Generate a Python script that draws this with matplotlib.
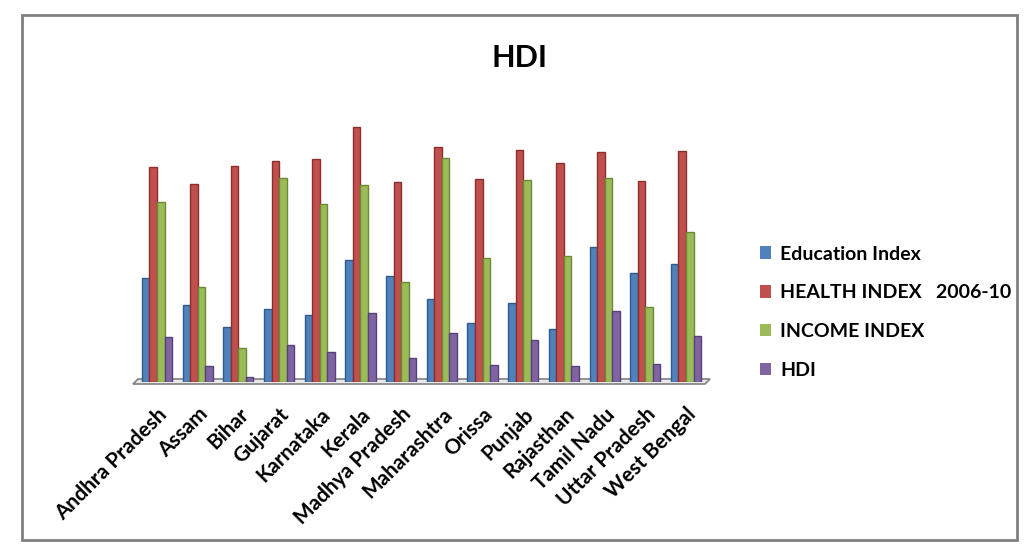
from __future__ import annotations

import matplotlib

matplotlib.use("Agg")

import matplotlib.pyplot as plt
import numpy as np
from matplotlib.patches import Polygon, Rectangle

plt.rcParams["font.family"] = ["Lato", "DejaVu Sans"]
plt.rcParams["font.weight"] = "bold"

STATES = [
    "Andhra Pradesh", "Assam", "Bihar", "Gujarat", "Karnataka", "Kerala", "Madhya Pradesh",
    "Maharashtra", "Orissa", "Punjab", "Rajasthan", "Tamil Nadu", "Uttar Pradesh", "West Bengal",
]
EDUCATION = [0.347, 0.257, 0.183, 0.243, 0.223, 0.407, 0.353, 0.277, 0.197, 0.263, 0.177, 0.450, 0.363, 0.393]
HEALTH = [0.717, 0.660, 0.720, 0.737, 0.743, 0.850, 0.667, 0.783, 0.677, 0.773, 0.730, 0.767, 0.670, 0.770]
INCOME = [0.600, 0.317, 0.113, 0.680, 0.593, 0.657, 0.333, 0.747, 0.413, 0.673, 0.420, 0.680, 0.250, 0.500]
HDI = [0.150, 0.053, 0.017, 0.123, 0.100, 0.230, 0.080, 0.163, 0.057, 0.140, 0.053, 0.237, 0.060, 0.153]

SERIES_LABELS = ["Education Index", "HEALTH INDEX   2006-10", "INCOME INDEX", "HDI"]
FACE_COLORS = ["#4F81BD", "#C0504D", "#9BBB59", "#8064A2"]
EDGE_COLORS = ["#2F5A8C", "#8C2F2C", "#6B8A35", "#57417A"]

W, H = 1029, 548


def main() -> None:
    fig = plt.figure(figsize=(W / 100, H / 100), dpi=100)

    # outer chart border
    fig.patches.append(
        Rectangle((22 / W, 1 - 540 / H), (1017 - 22) / W, (540 - 15) / H,
                  transform=fig.transFigure, fill=False, edgecolor="#808080", linewidth=2)
    )

    left, right, base, top = 133, 710, 382, 112
    ax = fig.add_axes([left / W, 1 - base / H, (right - left) / W, (base - top) / H])
    ax.set_xlim(-0.59, 13.59)
    ax.set_ylim(0, 0.9)

    x = np.arange(len(STATES))
    bar_w = 0.185
    series = [EDUCATION, HEALTH, INCOME, HDI]
    handles = []
    for k, values in enumerate(series):
        offs = (k - 1.5) * bar_w
        bars = ax.bar(x + offs, values, width=bar_w, color=FACE_COLORS[k],
                      edgecolor=EDGE_COLORS[k], linewidth=1.0, label=SERIES_LABELS[k], zorder=3)
        handles.append(bars)

    # thin 3D floor
    px = 14.18 / (right - left)
    py = 0.9 / (base - top)
    floor = Polygon(
        [(-0.59, -2 * py), (-0.59 + 572 * px, -2 * py), (13.59, 3 * py), (-0.59 + 5 * px, 3 * py)],
        closed=True, facecolor="#e8e8e8", edgecolor="#808080", linewidth=1.2, clip_on=False, zorder=2,
    )
    ax.add_patch(floor)

    ax.set_xticks(x)
    ax.set_xticklabels(STATES, rotation=45, ha="right", rotation_mode="anchor",
                       fontsize=15, fontweight="bold")
    ax.tick_params(axis="x", length=0, pad=16)
    ax.set_yticks([])
    for spine in ax.spines.values():
        spine.set_visible(False)
    ax.patch.set_visible(False)

    fig.text(520 / W, 1 - 58 / H, "HDI", ha="center", va="center", fontsize=22, fontweight="bold")

    leg = fig.legend(handles=handles, loc="upper left", bbox_to_anchor=(742 / W, 1 - 228 / H),
                     frameon=False, fontsize=14, handlelength=0.6, handleheight=0.6,
                     handletextpad=0.45, labelspacing=1.12)
    for text in leg.get_texts():
        text.set_fontweight("bold")
    for patch in leg.get_patches():
        patch.set_edgecolor("none")

    fig.savefig("out.png", dpi=100)
    plt.close(fig)


if __name__ == "__main__":
    main()
